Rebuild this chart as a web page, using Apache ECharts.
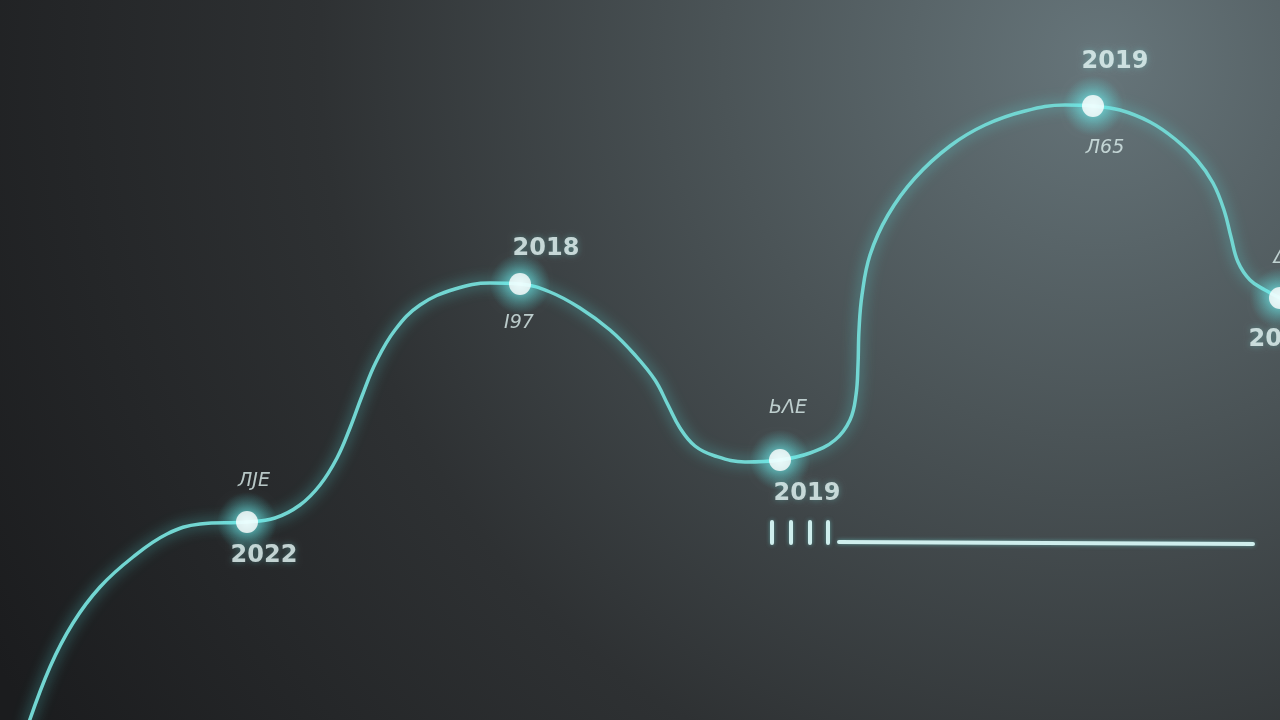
<!DOCTYPE html>
<html>
<head>
<meta charset="utf-8">
<style>html,body{margin:0;padding:0;background:#1c1d1f;}#c{width:1280px;height:720px;}</style>
<script src="https://cdn.jsdelivr.net/npm/echarts@6/dist/echarts.min.js"></script>
</head>
<body>
<div id="c"></div>
<script>
// Curve trace (x position, vertical position measured downward)
const curveX = [27,50,73,100,133,167,200,247,275,300,320,337,350,362,376,395,420,455,490,520,550,580,610,635,655,668,680,695,715,745,780,810,835,850,856,858,859,862,870,888,915,950,985,1025,1065,1093,1120,1150,1175,1197,1213,1224,1231,1238,1250,1265,1280,1295];
const curveY = [728,667,623,587,557,534,524,522,518,505,485,458,428,396,362,330,305,289,283,284,292,308,330,355,380,405,428,446,456,462,460,453,440,420,395,365,330,295,255,215,178,146,125,111,105,106,110,122,139,160,183,210,237,262,280,290,298,303];
// Highlighted points
const pointX = [247,520,780,1093,1280];
const pointY = [522,284,460,106,298];
const yearLabels = ['2022','2018','2019','2019','2019'];
const yearOffsets = [[17,34],[26,-35],[27,34],[22,-44],[2,42]];
const subLabels = ['ЛJE','I97','ЬΛE','Л65','Δ'];
const subOffsets = [[7,-41],[-1,39],[8,-52],[12,42],[0,-40]];
// Baseline scale marks
const tickX = [772,791,810,828];
const tickTop = 522, tickBottom = 543;
const baseLine = [[839,542],[1253,544]];

const chart = echarts.init(document.getElementById('c'));

const curveData = curveX.map((x,i)=>[x,curveY[i]]);
const pts = pointX.map((x,i)=>[x,pointY[i]]);

const yearData = pts.map((p,i)=>({value:p,label:{offset:yearOffsets[i]}}));
const subData = pts.map((p,i)=>({value:p,label:{offset:subOffsets[i]}}));

const linesData = tickX.map(x=>({coords:[[x,tickBottom],[x,tickTop]]}));
linesData.push({coords:baseLine});

chart.setOption({
  backgroundColor: new echarts.graphic.RadialGradient(0.86, 0.08, 1.75, [
    {offset:0, color:'#66757a'},
    {offset:0.3, color:'#4b5457'},
    {offset:0.62, color:'#2e3133'},
    {offset:1, color:'#1b1c1e'}
  ]),
  animation:false,
  grid:{left:0,right:0,top:0,bottom:0,containLabel:false},
  xAxis:{type:'value',min:0,max:1280,show:false},
  yAxis:{type:'value',min:0,max:720,inverse:true,show:false},
  series:[
    {
      type:'line', data:curveData, smooth:0.4, showSymbol:false, symbol:'none',
      lineStyle:{color:'#72d6d2',width:3.5,shadowBlur:14,shadowColor:'rgba(90,230,225,0.75)'},
      z:2
    },
    {
      type:'lines', coordinateSystem:'cartesian2d', data:linesData,
      lineStyle:{color:'#cfeeed',width:4,cap:'round',opacity:1,shadowBlur:4,shadowColor:'rgba(120,230,225,0.5)'},
      z:2
    },
    {
      type:'scatter', data:pts, symbolSize:60, silent:true,
      itemStyle:{color:new echarts.graphic.RadialGradient(0.5,0.5,0.5,[
        {offset:0,color:'rgba(190,255,255,0.95)'},
        {offset:0.4,color:'rgba(100,235,235,0.45)'},
        {offset:1,color:'rgba(90,230,230,0)'}
      ])},
      z:4
    },
    {
      type:'scatter', data:pts, symbolSize:22,
      itemStyle:{color:'#ffffff',shadowBlur:20,shadowColor:'rgba(120,250,250,1)'},
      z:5
    },
    {
      type:'scatter', data:yearData, symbolSize:1, silent:true, itemStyle:{color:'rgba(0,0,0,0)'},
      label:{show:true,position:'inside',formatter:(p)=>yearLabels[p.dataIndex],color:'#e6f6f5',fontSize:24,fontWeight:'bold',fontFamily:'DejaVu Sans',
        textShadowBlur:6,textShadowColor:'rgba(120,230,225,0.45)'},
      z:6
    },
    {
      type:'scatter', data:subData, symbolSize:1, silent:true, itemStyle:{color:'rgba(0,0,0,0)'},
      label:{show:true,position:'inside',formatter:(p)=>subLabels[p.dataIndex],color:'#dcefee',fontSize:19,fontStyle:'italic',fontFamily:'DejaVu Sans'},
      z:6
    }
  ]
});
</script>
</body>
</html>
